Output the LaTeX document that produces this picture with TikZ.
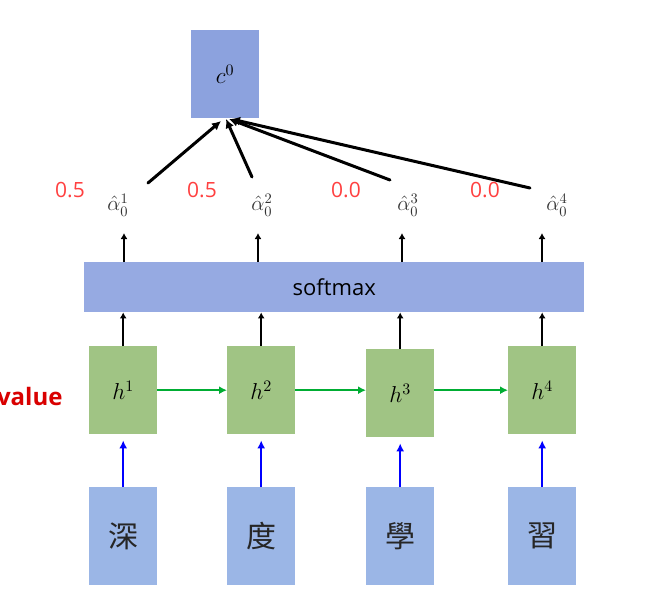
\documentclass[tikz,border=0pt]{standalone}
\usepackage{fontspec}
\newfontfamily\cjk{Noto Sans CJK TC}
\setsansfont{Open Sans}
\usetikzlibrary{arrows.meta}
\begin{document}
\begin{tikzpicture}[x=1pt,y=-1pt,
  blk/.style={draw=none,inner sep=0pt,anchor=north west},
  ah/.style={-{Latex[length=9pt,width=9pt]},line width=3pt,line cap=round},
  ka/.style={-{Latex[length=6pt,width=7pt]},line width=2pt,black},
  ga/.style={-{Latex[length=8pt,width=8pt]},line width=2.5pt,green!60!black!80!cyan},
  ba/.style={-{Latex[length=8pt,width=8pt]},line width=2.5pt,blue},
  red/.style={text=red!75!white,font=\sffamily\fontsize{21}{22}\selectfont},
  mth/.style={font=\Large,scale=1.6},
  al/.style={font=\Large,scale=1.45,text=black!80}]
\definecolor{bx}{RGB}{155,182,230}
\definecolor{cz}{RGB}{140,162,222}
\definecolor{gr}{RGB}{160,196,132}
\definecolor{sm}{RGB}{150,170,226}
\clip (0,0) rectangle (652,607);
\fill[white] (0,0) rectangle (652,607);
% c0
\node[blk,fill=cz,minimum width=68pt,minimum height=88pt] (c) at (191,30) {};
\node[mth] at (c.center) {$c^0$};
% alphas
\foreach \i/\x/\r/\v in {1/118/70/0.5,2/262/202/0.5,3/408/346/0.0,4/557/485/0.0}{
  \node[al] (a\i) at (\x,205) {$\hat{\alpha}_0^{\i}$};
  \node[red] (r\i) at (\r,190) {\v};
}
\coordinate (t1) at (148,183); \coordinate (t2) at (252,177);
\coordinate (t3) at (390,180); \coordinate (t4) at (530,188);
\draw[ah] (t1) -- (221,121);
\draw[ah] (t2) -- (226,119);
\draw[ah] (t3) -- (229,119);
\draw[ah] (t4) -- (231,119);
% softmax
\node[blk,fill=sm,minimum width=500pt,minimum height=50pt] (s) at (84,262) {};
\node[font=\sffamily\fontsize{22}{24}\selectfont] at (s.center) {softmax};
% h boxes
\foreach \i/\x/\y in {1/89/346,2/227/346,3/366/349,4/508/346}{
  \node[blk,fill=gr,minimum width=68pt,minimum height=88pt] (h\i) at (\x,\y) {};
  \node[mth] at (h\i.center) {$h^{\i}$};
  \node[blk,fill=bx,minimum width=68pt,minimum height=98pt] (w\i) at (\x,487) {};
  \coordinate (sb\i) at (h\i.north |- s.south);
  \draw[ka] (h\i.north) -- (sb\i);
}
\foreach \i/\x in {1/124,2/258,3/402,4/542}{
  \coordinate (sa\i) at (\x,262); \coordinate (aa\i) at (\x,233);
  \draw[ka] (sa\i) -- (aa\i);
}
\foreach \i/\c in {1/深,2/度,3/學,4/習}{
  \node[font=\cjk\fontsize{30}{32}\selectfont,text=black!85] at (w\i.center) {\c};
  \draw[ba] (w\i.north) -- ([yshift=-6pt]h\i.south);
}
\draw[ga] (h1.east) -- (h2.west);
\draw[ga] (h2.east) -- (h3.west |- h2.east);
\draw[ga] (h3.east |- h2.east) -- (h4.west);
\node[anchor=east,text=red!85!black,font=\sffamily\bfseries\fontsize{24}{26}\selectfont] (v) at (66,396) {value};
\end{tikzpicture}
\end{document}
